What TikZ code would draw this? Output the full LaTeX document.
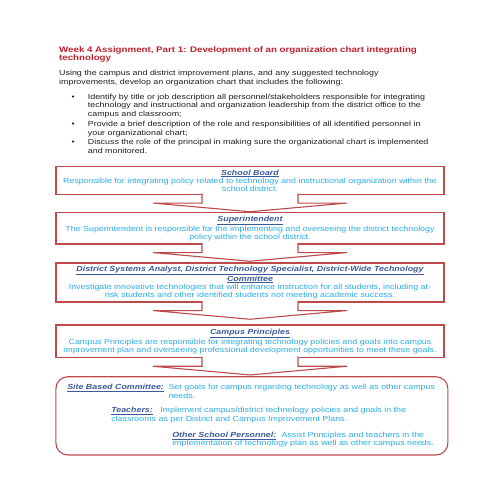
\documentclass[tikz,border=0pt]{standalone}
\usepackage{fontspec}
\setmainfont{Liberation Sans}[FakeStretch=1.2]
\usetikzlibrary{calc,positioning}

\definecolor{titlered}{HTML}{C0202C}
\definecolor{boxred}{HTML}{BE4A4C}
\definecolor{headblue}{HTML}{3C5A99}
\definecolor{bodyblue}{HTML}{2BAAE2}
\definecolor{introgray}{HTML}{1E1E1E}

\newcommand{\hd}[1]{\textcolor{headblue}{\textbf{\textit{\underline{#1}}}}}

\begin{document}
\begin{tikzpicture}[
		x=1pt, y=-1pt,
		orgbox/.style={draw=boxred, line width=1.1pt, minimum width=388pt, inner sep=2pt, align=center, text=bodyblue, font={\fontsize{7.4}{8.2}\selectfont}},
		flowarrow/.style={draw=boxred, fill=white, line width=1.1pt, line join=miter},
		entry/.style={anchor=base west, inner sep=0pt, align=left, text=bodyblue, font={\fontsize{7.4}{8.2}\selectfont}},
		intro/.style={anchor=base west, inner sep=0pt, align=left, text=introgray, font={\fontsize{7.4}{8.8}\selectfont}},
	]
	\useasboundingbox (0,0) rectangle (495,495);

	% heading text of the page (base = last line)
	\node[intro, text=titlered, font={\fontsize{8.1}{9}\selectfont\bfseries}] (title) at (59,61) {Week 4 Assignment, Part 1: Development of an organization chart integrating\\technology};
	\node[intro] (task) at (59,84.3) {Using the campus and district improvement plans, and any suggested technology\\improvements, develop an organization chart that includes the following:};
	\node[intro] (bullets) at (71.5,99) {\begin{tabular}[t]{@{}p{16.2pt}@{}l@{}}
		• & Identify by title or job description all personnel/stakeholders responsible for integrating\\
		& technology and instructional and organization leadership from the district office to the\\
		& campus and classroom;\\[0.9pt]
		• & Provide a brief description of the role and responsibilities of all identified personnel in\\
		& your organizational chart;\\[0.9pt]
		• & Discuss the role of the principal in making sure the organizational chart is implemented\\
		& and monitored.
	\end{tabular}};

	% chart
	\node[orgbox, minimum height=27.8pt] (board) at (250,180.6) {\hd{School Board}\\Responsible for integrating policy related to technology and instructional organization within the\\school district.};
	\node[orgbox, minimum height=31.3pt, below=17.1pt of board] (superintendent) {\hd{Superintendent}\\The Superintendent is responsible for the implementing and overseeing the district technology\\policy within the school district.};
	\node[orgbox, minimum height=39pt, below=17.9pt of superintendent] (techstaff) {\hd{District Systems Analyst, District Technology Specialist, District-Wide Technology}\\\hd{Committee}\\Investigate innovative technologies that will enhance instruction for all students, including at-\\risk students and other identified students not meeting academic success.};
	\node[orgbox, minimum height=32.7pt, below=21.9pt of techstaff] (campus) {\hd{Campus Principles}\\Campus Principles are responsible for integrating technology policies and goals into campus\\improvement plan and overseeing professional development opportunities to meet these goals.};
	\node[orgbox, rounded corners=12pt, minimum width=392pt, minimum height=78.3pt, below=17.9pt of campus, xshift=1.9pt] (sitebased) {};

	\node[entry] (siteentry) at ($(sitebased.north west)+(11.7,13.8)$) {\begin{tabular}[t]{@{}p{101.3pt}@{}l@{}}
		\hd{Site Based Committee:} & Set goals for campus regarding technology as well as other campus\\
		& needs.
	\end{tabular}};
	\node[entry] (teachers) at ($(sitebased.north west)+(55.7,45)$) {\makebox[49pt][l]{\hd{Teachers:}}Implement campus/district technology policies and goals in the\\classrooms as per District and Campus Improvement Plans.};
	\node[entry] (personnel) at ($(sitebased.north west)+(116.7,69.5)$) {\makebox[109.3pt][l]{\hd{Other School Personnel:}}Assist Principles and teachers in the\\implementation of technology plan as well as other campus needs.};

	\foreach \a in {board,superintendent,techstaff,campus}
		\draw[flowarrow] ($(\a.south)+(-48,-1.6)$) -- ++(0,9.6) -- ++(-49,0) -- ++(97,8.7) -- ++(97,-8.7) -- ++(-49,0) -- ++(0,-9.6);
\end{tikzpicture}
\end{document}
